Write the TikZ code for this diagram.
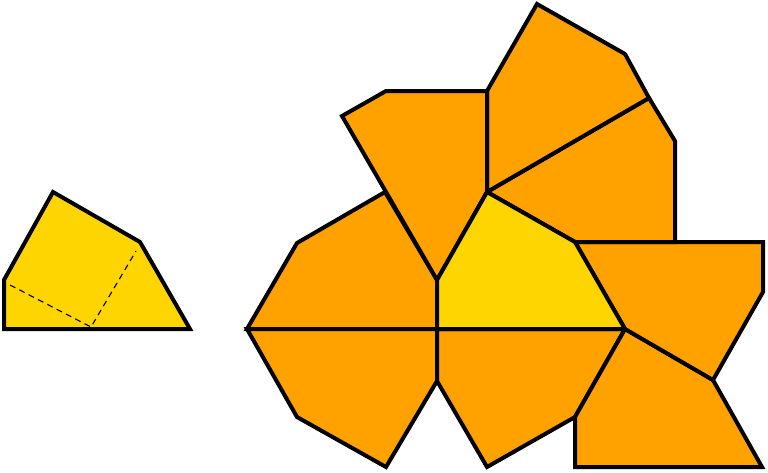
\documentclass[tikz,border=0pt]{standalone}
\tikzset{
  face/.style={draw=black, line width=4pt, line join=miter},
  yface/.style={face, fill=gold},
  oface/.style={face, fill=orng},
  fold/.style={draw=black, line width=1.1pt, dash pattern=on 6pt off 4.5pt}
}
\definecolor{gold}{HTML}{FFD500}
\definecolor{orng}{HTML}{FFA200}
\begin{document}
\begin{tikzpicture}[x=1pt,y=-1pt]
\useasboundingbox (0,0) rectangle (768,472);
% left single piece
\path[yface] (4,329) -- (4,280) -- (53,192) -- (140,242) -- (190,329) -- cycle;
\coordinate (d1) at (10,285);
\coordinate (d2) at (91,327);
\coordinate (d3) at (136,251);
\draw[fold] (d1) -- (d2) -- (d3);
% net
\path[oface] (247,329) -- (297,243) -- (385,192) -- (437,280) -- (437,329) -- cycle;
\path[oface] (247,329) -- (297,417) -- (386,467) -- (437,381) -- (437,329) -- cycle;
\path[oface] (437,329) -- (437,381) -- (487,467) -- (575,417) -- (625,329) -- cycle;
\path[oface] (625,329) -- (713,380) -- (762,467) -- (575,467) -- (575,417) -- cycle;
\path[oface] (575,242) -- (763,242) -- (763,292) -- (713,380) -- (625,329) -- cycle;
\path[oface] (487,192) -- (575,242) -- (675,242) -- (675,141) -- (649,98) -- cycle;
\path[oface] (487,192) -- (487,91) -- (537,4) -- (625,54) -- (649,98) -- cycle;
\path[oface] (437,280) -- (342,116) -- (386,91) -- (487,91) -- (487,192) -- cycle;
\path[yface] (437,329) -- (437,280) -- (487,192) -- (575,242) -- (625,329) -- cycle;
\end{tikzpicture}
\end{document}
